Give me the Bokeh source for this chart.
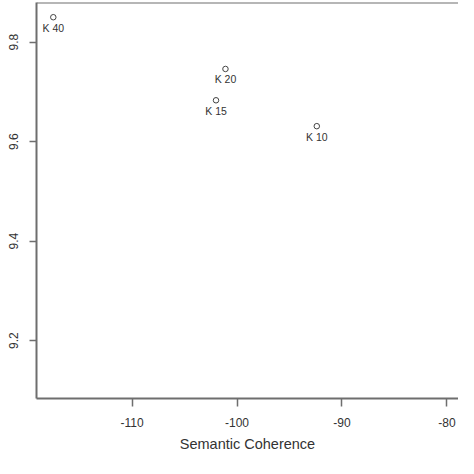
from bokeh.plotting import figure
from bokeh.models import ColumnDataSource, Span, Range1d, FixedTicker, PrintfTickFormatter
from bokeh.core.properties import value
from bokeh.embed import file_html
from bokeh.resources import INLINE

labels = ["K 10", "K 15", "K 20", "K 40"]
coherence = [-92.4, -102.0, -101.1, -117.5]
exclusivity = [9.631, 9.683, 9.746, 9.850]
x_ticks = [-110, -100, -90, -80]
y_ticks = [9.2, 9.4, 9.6, 9.8]

src = ColumnDataSource(dict(x=coherence, y=exclusivity, label=labels))

AX = "#6e6e6e"
TXT = "#333333"
FONT = "Liberation Sans"
Y_TOP = 9.8796

p = figure(width=458, height=458, output_backend="svg", toolbar_location=None,
           x_range=Range1d(-119.1, -78.9), y_range=Range1d(9.0835, Y_TOP),
           min_border_left=36, min_border_right=0, min_border_top=2, min_border_bottom=60)
p.outline_line_color = None
p.grid.visible = False
p.background_fill_color = "white"
p.border_fill_color = "white"

p.scatter("x", "y", source=src, size=5.5, fill_color=None, line_color="#444444", line_width=1)
p.text("x", "y", text="label", source=src, text_align="center", text_baseline="middle",
       y_offset=10.5, text_font=value(FONT), text_font_size="10.5px", text_color=TXT)

p.add_layout(Span(location=Y_TOP, dimension="width", line_color=AX, line_width=2))

for ax in (p.xaxis[0], p.yaxis[0]):
    ax.axis_line_color = AX
    ax.axis_line_width = 2
    ax.major_tick_line_color = AX
    ax.major_tick_line_width = 1.5
    ax.minor_tick_line_color = None
    ax.major_tick_in = 0
    ax.major_label_text_font = FONT
    ax.major_label_text_font_size = "12px"
    ax.major_label_text_color = TXT

p.xaxis[0].ticker = FixedTicker(ticks=x_ticks)
p.xaxis[0].formatter = PrintfTickFormatter(format="%d")
p.xaxis[0].major_tick_out = 8
p.xaxis[0].major_label_standoff = 11
p.xaxis[0].axis_label = "Semantic Coherence"
p.xaxis[0].axis_label_text_font = FONT
p.xaxis[0].axis_label_text_font_size = "14.5px"
p.xaxis[0].axis_label_text_font_style = "normal"
p.xaxis[0].axis_label_text_color = TXT
p.xaxis[0].axis_label_standoff = 6

p.yaxis[0].ticker = FixedTicker(ticks=y_ticks)
p.yaxis[0].formatter = PrintfTickFormatter(format="%.1f")
p.yaxis[0].major_tick_out = 7
p.yaxis[0].major_label_standoff = 11
p.yaxis[0].major_label_orientation = "vertical"

open("out.html", "w").write(file_html(p, INLINE))
